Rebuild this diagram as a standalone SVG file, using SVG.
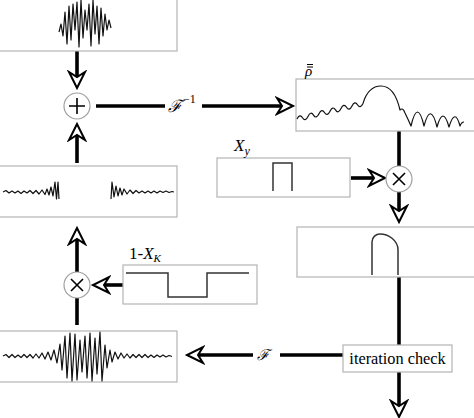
<svg xmlns="http://www.w3.org/2000/svg" width="474" height="418" viewBox="0 0 474 418">
<style>
.box{fill:#fff;stroke:#b4b4b4;stroke-width:1.2}
.circ{fill:#fff;stroke:#a0a0a0;stroke-width:1.2}
.sym{stroke:#000;stroke-width:1.6;fill:none}
.con{stroke:#000;stroke-width:3.6;fill:none}
.wave{fill:none;stroke:#111;stroke-width:1.2;stroke-linejoin:round}
.sig{fill:none;stroke:#333;stroke-width:1.5}
.bar{stroke:#000;stroke-width:1}
</style>
<defs>
<marker id="ah" markerUnits="userSpaceOnUse" markerWidth="22" markerHeight="22" viewBox="0 0 22 22" refX="7" refY="11" orient="auto">
<path d="M18,11 L2,3 L7,11 L2,19 Z" fill="#fff" stroke="#000" stroke-width="2" stroke-linejoin="miter"/>
</marker>
</defs>

<g id="connectors">
<line class="con" x1="77" y1="51" x2="77" y2="77" marker-end="url(#ah)"/>
<line class="con" x1="77" y1="163" x2="77" y2="135" marker-end="url(#ah)"/>
<line class="con" x1="96" y1="106" x2="165" y2="106"/>
<line class="con" x1="202" y1="106" x2="282" y2="106" marker-end="url(#ah)"/>
<line class="con" x1="399" y1="131" x2="399" y2="166"/>
<line class="con" x1="351" y1="178" x2="374" y2="178" marker-end="url(#ah)"/>
<line class="con" x1="399" y1="192" x2="399" y2="211" marker-end="url(#ah)"/>
<line class="con" x1="399" y1="277" x2="399" y2="345"/>
<line class="con" x1="399" y1="372" x2="399" y2="406" marker-end="url(#ah)"/>
<line class="con" x1="343" y1="355" x2="280" y2="355"/>
<line class="con" x1="253" y1="355" x2="198" y2="355" marker-end="url(#ah)"/>
<line class="con" x1="77" y1="325" x2="77" y2="298"/>
<line class="con" x1="77" y1="272" x2="77" y2="239" marker-end="url(#ah)"/>
<line class="con" x1="123" y1="285" x2="104" y2="285" marker-end="url(#ah)"/>
</g>

<g id="top-box">
<rect class="box" x="-2" y="-10" width="179" height="61"/>
<polyline class="wave" points="59,32 61,24 63,36 65,12 67,44 69,6 71,40 73,4 75,30 77,2 79,47 81,0 83,38 85,10 87,30 89,4 91,46 93,0 95,34 97,6 99,44 101,8 103,36 105,14 107,30 109,20 111,28"/>
</g>

<g id="plus">
<circle class="circ" cx="77" cy="106" r="13"/>
<path class="sym" d="M69,106 H85 M77,98 V114"/>
</g>

<g id="label-finv">
<text x="168" y="112" font-family="Liberation Serif, DejaVu Serif, serif" font-size="17" font-style="italic">ℱ</text>
<text x="183" y="103" font-family="Liberation Serif, DejaVu Serif, serif" font-size="12">−1</text>
</g>

<g id="rho-box">
<rect class="box" x="296" y="79" width="190" height="52"/>
<path class="wave" d="M297,119 Q299.75,113.35 302.5,117.7 Q305.25,122.05 308,116.4 Q310.75,110.75 313.5,115.1 Q316.25,119.45 319,113.8 Q321.75,108.15 324.5,112.5 Q327.25,116.85 330,111.2 Q332.75,105.55 335.5,109.9 Q338.25,114.25 341,108.6 Q343.75,102.95 346.5,107.3 Q349.25,111.65 352,106 Q354.75,100.35 357.5,104.7 Q360.25,109.05 363,103.4 C367,90 374,86 381,86 C391,86 397,97 400,110 Q403,107 405,113 Q408,119 411,126 Q417.5,98 424,126 Q430.5,101 437,127 Q443,105 449,127 Q455,107 460,126 Q461.5,122 464,122"/>
<text x="305" y="76" font-family="Liberation Serif, DejaVu Serif, serif" font-size="15" font-style="italic">ρ</text>
<path class="bar" d="M307,64.5 H313 M307,67 H313"/>
</g>

<g id="xy-box">
<rect class="box" x="217" y="158" width="133" height="39"/>
<path class="sig" d="M273,191 V163 H292 V191"/>
<text x="234" y="151" font-family="Liberation Serif, DejaVu Serif, serif" font-size="17" font-style="italic">X<tspan font-size="12" dy="4">y</tspan></text>
</g>

<g id="times-right">
<circle class="circ" cx="399" cy="179" r="13"/>
<path class="sym" d="M393,173 L405,185 M405,173 L393,185"/>
</g>

<g id="arch-box">
<rect class="box" x="297" y="227" width="190" height="50"/>
<path class="sig" d="M372,275 V242 C372,237 376,234 380,234 C388,234 398,240 398,250 V275"/>
</g>

<g id="iteration-check">
<rect class="box" x="343" y="345" width="109" height="27"/>
<text x="397.5" y="363.5" font-family="Liberation Serif, DejaVu Serif, serif" font-size="16.3" text-anchor="middle">iteration check</text>
</g>

<g id="label-f">
<text x="257" y="360" font-family="Liberation Serif, DejaVu Serif, serif" font-size="15" font-style="italic">ℱ</text>
</g>

<g id="bottom-box">
<rect class="box" x="-2" y="331" width="179" height="51"/>
<polyline class="wave" points="3,356 6,354.5 9,357.5 12,354.5 15,357.5 18,355 21,357.5 24,354.5 27,357.5 30,354.5 33,358 36,354 39,358 42,353 45,359 48,352 51,360 54,350 57,363 60,344 62,370 65,336 67,378 70,333 72,381 75,334 77,380 80,340 82,372 85,336 87,378 90,333 92,381 95,338 97,374 100,332 102,381 105,345 107,368 110,350 112,362 115,352 118,359 121,353 124,358 127,354 130,358 133,354.5 136,357.5 139,354.5 142,357.5 145,354.5 148,357.5 151,355 154,357.5 157,355 160,357 163,355 166,357 169,355.5 172,356.5"/>
</g>

<g id="times-left">
<circle class="circ" cx="77" cy="285" r="13"/>
<path class="sym" d="M71,279 L83,291 M83,279 L71,291"/>
</g>

<g id="mask-box">
<rect class="box" x="123" y="265" width="134" height="39"/>
<path class="sig" d="M126,273 H168 V297 H207 V273 H249"/>
<text x="129" y="259" font-family="Liberation Serif, DejaVu Serif, serif" font-size="17">1-<tspan font-style="italic">X</tspan><tspan font-size="11" font-style="italic" dy="3">K</tspan></text>
</g>

<g id="middle-box">
<rect class="box" x="-2" y="166" width="179" height="51"/>
<polyline class="wave" points="3,192 6,190.5 9,193 12,191 15,193 18,191 21,193.5 24,191 27,193 30,190.5 33,193.5 36,190.5 39,194 42,190 45,194.5 47,189 49,195 51,187 53,196 55,182 56.5,199 58,182 59,199"/>
<polyline class="wave" points="111,199 112,182 114,197 116,186 118,196 120,188 122,195 124,189 127,194 130,190 133,193.5 136,190.5 139,193 142,191 145,193 148,191 151,193 154,191 157,193 160,191 163,192.5 166,191 169,192.5 172,191.5 174,192"/>
</g>
</svg>
